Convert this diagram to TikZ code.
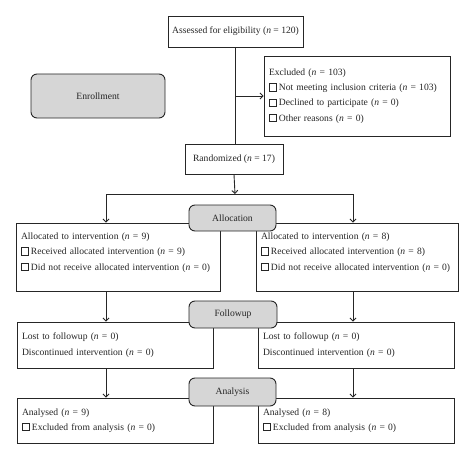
\documentclass[tikz,border=0pt]{standalone}
\usepackage{fontspec}
\setmainfont{Liberation Serif}
\usetikzlibrary{arrows.meta}
\newcommand{\cbox}{{\fboxsep=0pt\fboxrule=0.9pt\fbox{\rule{0pt}{6.5pt}\hspace{6.5pt}}}\,}
\newcommand{\nval}[1]{(\textit{n} = #1)}
\begin{document}
\begin{tikzpicture}[x = 1pt, y = -1pt, line width = 0.9pt, color = black!85,
        every node/.style = {font = \fontsize{9.6}{15.3}\selectfont},
        box/.style = {draw, fill = white, inner sep = 6pt},
        side/.style = {box, inner xsep = 5pt, align = left},
        stage/.style = {draw, fill = black!16, rounded corners = 6pt},
        arr/.style = {-{Straight Barb[length = 3pt, width = 6pt]}}]
    \useasboundingbox (0, 0) rectangle (474, 460);
    \path
        node [box, inner sep = 2pt, minimum width = 135pt, minimum height = 31pt] (assess) at (235.5, 31.5) {Assessed for eligibility \nval{120}}
        node [side, text width = 176pt, minimum height = 80pt] (excl) at (357, 96)
            {Excluded \nval{103}\\ \cbox Not meeting inclusion criteria \nval{103}\\ \cbox Declined to participate \nval{0}\\ \cbox Other reasons \nval{0}}
        node [box, minimum width = 98pt, minimum height = 30pt] (rand) at (234, 159) {Randomized \nval{17}}
        node [side, text width = 194pt, minimum height = 68pt] (allocL) at (118, 257)
            {Allocated to intervention \nval{9}\\ \cbox Received allocated intervention \nval{9}\\ \cbox Did not receive allocated intervention \nval{0}\par\vspace{9pt}}
        node [side, text width = 192pt, minimum height = 68pt] (allocR) at (357, 257)
            {Allocated to intervention \nval{8}\\ \cbox Received allocated intervention \nval{8}\\ \cbox Did not receive allocated intervention \nval{0}\par\vspace{9pt}}
        node [side, text width = 186pt, minimum height = 46pt] (lostL) at (115, 345)
            {Lost to followup \nval{0}\\ Discontinued intervention \nval{0}}
        node [side, text width = 186pt, minimum height = 46pt] (lostR) at (356, 345)
            {Lost to followup \nval{0}\\ Discontinued intervention \nval{0}}
        node [side, text width = 186pt, minimum height = 45pt] (anaL) at (115, 420.5)
            {Analysed \nval{9}\\ \cbox Excluded from analysis \nval{0}}
        node [side, text width = 186pt, minimum height = 45pt] (anaR) at (356, 420.5)
            {Analysed \nval{8}\\ \cbox Excluded from analysis \nval{0}};
    \coordinate (split) at (235, 194);
    \coordinate (sl) at (106, 194);
    \coordinate (sr) at (353, 194);
    \draw (assess.south) -- (assess.south |- rand.north);
    \draw [arr] (assess.south |- excl.west) -- (excl.west);
    \draw [arr] (rand.south) -- (split);
    \draw (sl) -- (sr);
    \draw [arr] (sl) -- (sl |- allocL.north);
    \draw [arr] (sr) -- (sr |- allocR.north);
    \draw [arr] (sl |- allocL.south) -- (sl |- lostL.north);
    \draw [arr] (sr |- allocR.south) -- (sr |- lostR.north);
    \draw [arr] (sl |- lostL.south) -- (sl |- anaL.north);
    \draw [arr] (sr |- lostR.south) -- (sr |- anaR.north);
    % stage labels on top
    \path
        node [stage, minimum width = 134pt, minimum height = 44pt] (enroll) at (98, 96) {Enrollment}
        node [stage, minimum width = 87pt, minimum height = 26pt] (alloc) at (232.5, 218) {Allocation}
        node [stage, minimum width = 88pt, minimum height = 27pt] (follow) at (233, 314.5) {Followup}
        node [stage, minimum width = 87pt, minimum height = 28pt] (analysis) at (232.5, 392) {Analysis};
\end{tikzpicture}
\end{document}
